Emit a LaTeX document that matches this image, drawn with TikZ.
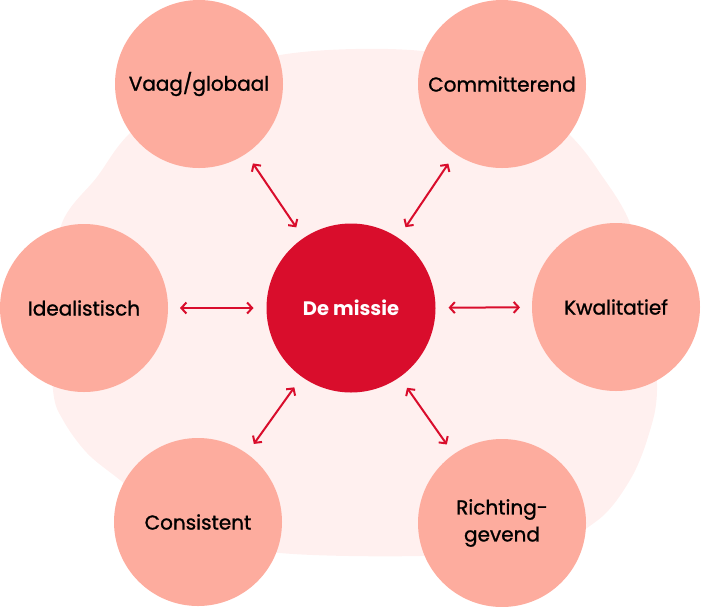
\documentclass[tikz,border=0pt]{standalone}
\usepackage{fontspec}
\setmainfont{Poppins}
\newfontfamily\medfont{Poppins}[FakeBold=1.1]
\usetikzlibrary{arrows.meta}
\definecolor{blob}{RGB}{255,240,239}
\definecolor{salmon}{RGB}{253,172,158}
\definecolor{mred}{RGB}{217,13,44}
\tikzset{
  outer/.style={circle,fill=salmon,minimum size=168pt,inner sep=0pt,outer sep=0pt,
    font=\medfont\fontsize{20}{27}\selectfont,align=center,text=black},
  core/.style={circle,fill=mred,minimum size=169pt,inner sep=0pt,outer sep=0pt,
    font=\fontsize{19.5}{24}\selectfont\bfseries,text=white},
  link/.style={draw=mred,line width=2pt,{Straight Barb[length=5pt,width=11pt,line width=2pt]}-{Straight Barb[length=5pt,width=11pt,line width=2pt]},
    shorten <=12pt,shorten >=13pt}
}
\begin{document}
\begin{tikzpicture}[x=1pt,y=-1pt]
\useasboundingbox (0,0) rectangle (701,606);
\fill[blob] plot[smooth cycle,tension=0.55] coordinates {
 (355,49) (430,52) (500,70) (570,135) (600,173) (630,223) (650,300) (657,390)
 (648,437) (630,480) (598,520) (540,548) (420,556) (280,553) (190,535) (120,480)
 (87,453) (63,420) (53,390) (50,300) (62,223) (97,177) (130,133) (200,75) (280,55)};
\node[core] (m) at (351,308) {De missie};
\node[outer] (a) at (199,84) {Vaag/globaal};
\node[outer] (b) at (502,84) {Committerend};
\node[outer] (c) at (84,308) {Idealistisch};
\node[outer] (d) at (616,307) {Kwalitatief};
\node[outer] (e) at (198,522) {Consistent};
\node[outer] (f) at (502,523) {Richting-\\gevend};
\draw[link] (a) -- (m);
\draw[link] (b) -- (m);
\draw[link] (c) -- (m);
\draw[link] (d) -- (m);
\draw[link] (e) -- (m);
\draw[link] (f) -- (m);
\end{tikzpicture}
\end{document}
